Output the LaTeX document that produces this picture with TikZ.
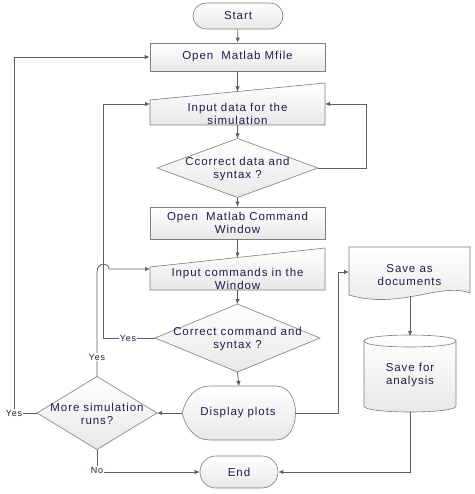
\documentclass[tikz,border=0pt]{standalone}
\usepackage{fontspec}
\setmainfont{Liberation Sans}[LetterSpace=8]
\usetikzlibrary{arrows.meta,shapes.geometric,calc}
\definecolor{Ink}{RGB}{30,30,75}
\definecolor{Edge}{RGB}{125,125,125}
\definecolor{Wire}{RGB}{88,98,94}
\tikzset{
  shadefill/.style={top color=white,bottom color=black!9,draw=Edge,line width=0.6pt},
  term/.style={shadefill,minimum width=90pt,minimum height=26pt,inner sep=0pt,font=\fontsize{11.5}{13}\selectfont,text=Ink},
  proc/.style={shadefill,rectangle,minimum width=175pt,minimum height=28pt,inner sep=0pt,align=center,font=\fontsize{11.5}{13}\selectfont,text=Ink},
  decide/.style={shadefill,diamond,inner sep=0pt,outer sep=0pt},
  frame/.style={rectangle,inner sep=0pt,outer sep=0pt},
  txt/.style={align=center,inner sep=0pt,font=\fontsize{11.5}{13}\selectfont,text=Ink},
  tag/.style={fill=white,inner sep=0.5pt,font=\fontsize{9}{10}\selectfont,text=Ink},
  flowpath/.style={-{Latex[length=5pt,width=4.5pt]},draw=Wire,line width=0.8pt},
  plainpath/.style={draw=Wire,line width=0.8pt}
}
\begin{document}
\begin{tikzpicture}[x=1pt,y=-1pt]
\useasboundingbox (0,0) rectangle (474,494);
% shapes
\node[term,rounded corners=13pt] (start) at (238,16) {Start};
\node[proc] (mfile) at (237.5,57) {Open~~Matlab Mfile};
\node[frame,minimum width=175pt,minimum height=42pt] (indata) at (237.5,104) {};
\path[shadefill] (indata.south west) -- (indata.south east) -- (indata.north east) -- ([yshift=-17pt]indata.north west) -- cycle;
\coordinate (indatatop) at ($(indata.north east)!0.5!([yshift=-17pt]indata.north west)$);
\node[txt] (indatatxt) at (237.5,114) {Input data for the\\simulation};
\node[decide,minimum width=161pt,minimum height=59pt] (chk1) at (237.5,168) {};
\node[txt] (chk1txt) at (237.5,169.5) {Ccorrect data and\\syntax ?};
\node[proc,minimum height=32pt] (cmdwin) at (237.5,223) {Open~~Matlab Command\\Window};
\node[frame,minimum width=175pt,minimum height=42pt] (incmd) at (237.5,269) {};
\path[shadefill] (incmd.south west) -- (incmd.south east) -- (incmd.north east) -- ([yshift=-19pt]incmd.north west) -- cycle;
\coordinate (incmdtop) at ($(incmd.north east)!0.5!([yshift=-19pt]incmd.north west)$);
\node[txt] (incmdtxt) at (237.5,279) {Input commands in the\\Window};
\node[decide,minimum width=165pt,minimum height=68pt] (chk2) at (237.5,338) {};
\node[txt] (chk2txt) at (237.5,339) {Correct command and\\syntax ?};
\node[frame,minimum width=114pt,minimum height=54pt] (plots) at (239,413) {};
\path[shadefill] (plots.west) .. controls (186,398) and (195,386) .. (210,386) -- (276,386) .. controls (302,386) and (302,440) .. (276,440) -- (210,440) .. controls (195,440) and (186,428) .. (plots.west);
\node[txt] (plotstxt) at (238,413) {Display plots};
\node[decide,minimum width=120pt,minimum height=73pt] (more) at (97,413) {};
\node[txt] (moretxt) at (97,414) {More simulation\\runs?};
\node[term,rounded corners=16pt,minimum width=78pt,minimum height=32pt] (endn) at (239,472) {End};
\node[frame,minimum width=121pt,minimum height=50pt] (docs) at (409.5,272) {};
\path[shadefill] (docs.north west) -- (docs.north east) -- (470,293) .. controls (440,282) and (400,310) .. (349,295) -- cycle;
\coordinate (docsbot) at (410,296);
\node[txt] (docstxt) at (409.5,275.5) {Save as\\documents};
\node[frame,minimum width=92pt,minimum height=76pt] (store) at (410,374) {};
\path[shadefill] (364,341) -- (364,406) .. controls (364,414) and (456,414) .. (456,406) -- (456,341) .. controls (456,333) and (364,333) .. (364,341) -- cycle;
\draw[draw=Edge,line width=0.6pt] (364,341) .. controls (364,349) and (456,349) .. (456,341);
\node[txt] (storetxt) at (410,375) {Save for\\analysis};
% connectors
\draw[flowpath] (start) -- (mfile);
\draw[flowpath] (mfile) -- (indatatop);
\draw[flowpath] (indata.south) -- (chk1.north);
\draw[flowpath] (chk1.east) -- (366,168) |- (indata.east);
\draw[flowpath] (chk1.south) -- (cmdwin.north);
\draw[flowpath] (cmdwin.south) -- (incmdtop);
\draw[flowpath] (incmd.south) -- (chk2.north);
\draw[flowpath] (chk2.west) -- (103,338) |- (indata.west);
\draw[flowpath] (chk2.south) -- (plots.north);
\draw[flowpath] (plots.west) -- (more.east);
\draw[flowpath] (plots.east) -- (338,413) |- (docs.west);
\draw[flowpath] (docsbot) -- (store.north);
\draw[flowpath] (store.south) |- (endn.east);
\draw[flowpath] (more.north) -- (97,272) .. controls (97,262) and (109,262) .. (109,269) -- (incmd.west);
\draw[flowpath] (more.west) -- (14,413) |- (mfile.west);
\draw[flowpath] (more.south) |- (endn.west);
% branch labels
\node[tag] (yes1) at (128,338) {Yes};
\node[tag] (yes2) at (97,357) {Yes};
\node[tag] (yes3) at (14,413) {Yes};
\node[tag] (no1) at (97,470) {No};
\end{tikzpicture}
\end{document}
